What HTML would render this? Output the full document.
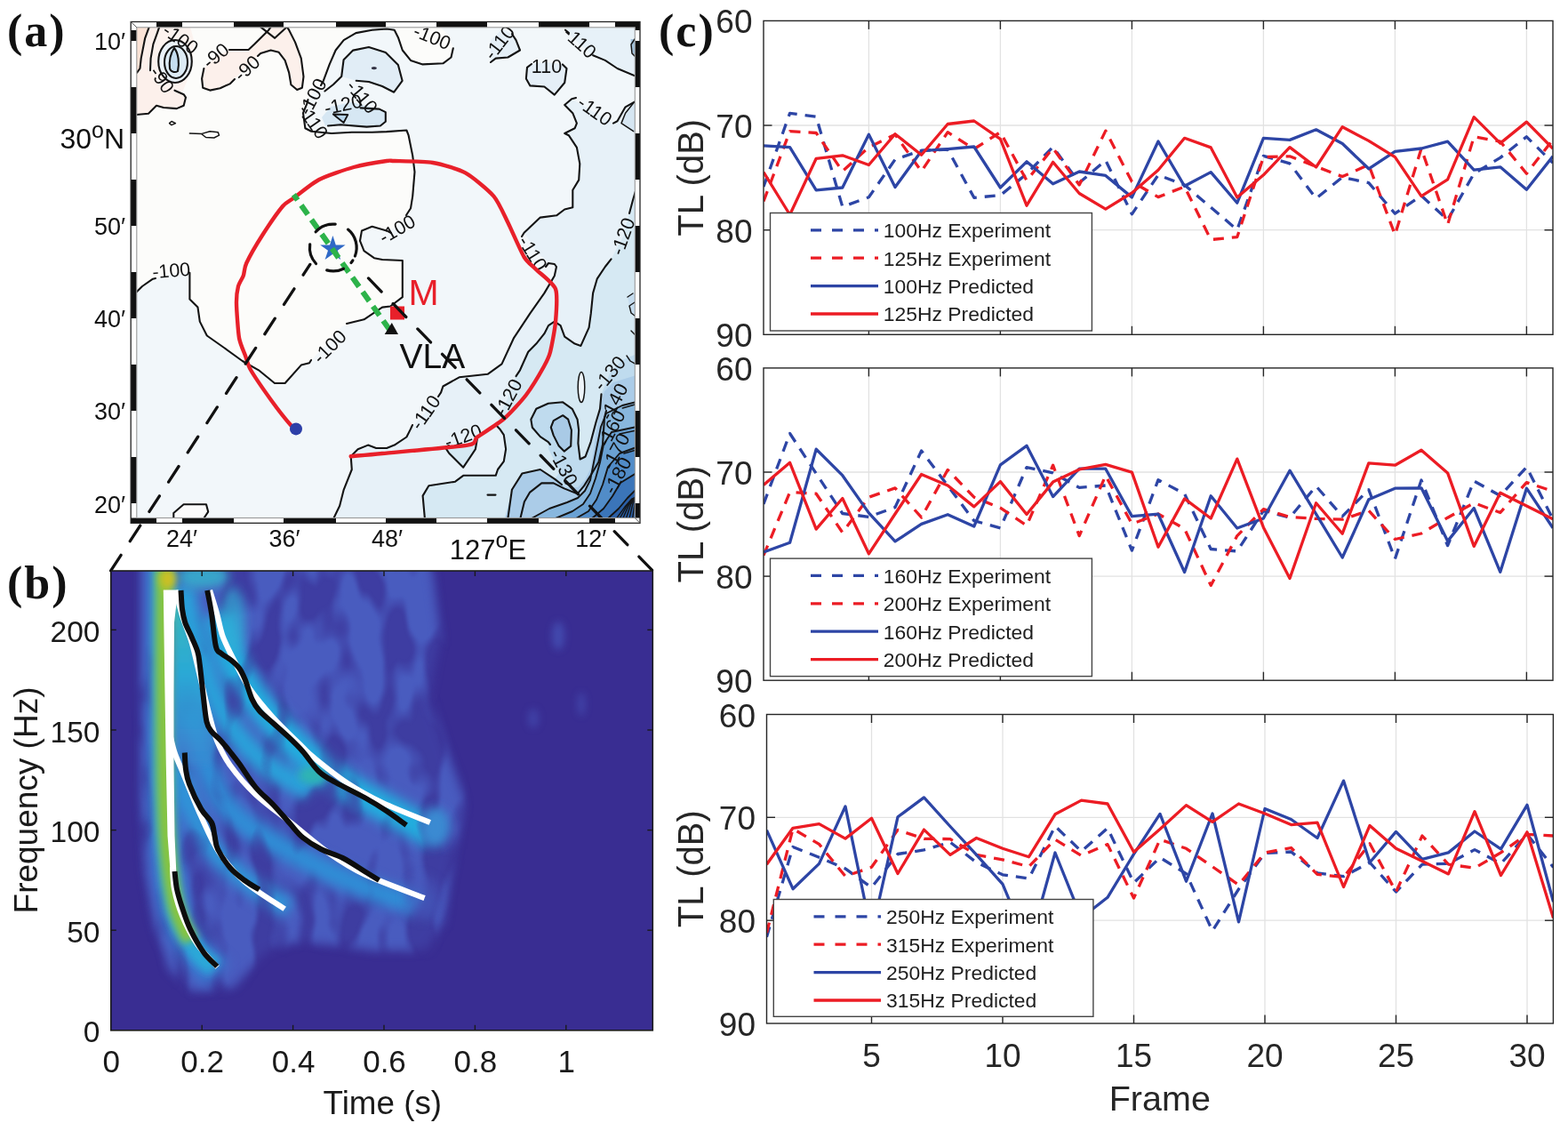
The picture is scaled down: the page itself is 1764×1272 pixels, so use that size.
<!DOCTYPE html>
<html><head><meta charset="utf-8"><title>Figure</title>
<style>html,body{margin:0;padding:0;background:#fff;} svg{display:block;}</style></head>
<body><svg width="1764" height="1272" viewBox="0 0 1764 1272">
<rect width="1764" height="1272" fill="#fff"/>
<defs>
<clipPath id="clipa"><rect x="153.8" y="30.8" width="560.5" height="551.7"/></clipPath>
<linearGradient id="deepg" x1="600" y1="440" x2="715" y2="582" gradientUnits="userSpaceOnUse"><stop offset="0" stop-color="#a6c8e5"/><stop offset="0.45" stop-color="#6fa3d4"/><stop offset="0.75" stop-color="#3f7cc0"/><stop offset="1" stop-color="#1f5aa0"/></linearGradient>
</defs>
<g clip-path="url(#clipa)">
<rect x="153.8" y="30.8" width="560.5" height="551.7" fill="#f2f7fa"/>
<polygon points="375.3,583.0 382.1,569.0 386.7,550.8 395.8,528.0 394.7,513.2 402.6,505.2 414.0,500.6 423.2,504.0 435.0,504.0 443.7,500.6 457.4,491.5 462.0,482.4 480.0,462.0 496.1,441.4 498.4,434.5 516.6,424.3 548.6,420.8 564.5,409.4 578.2,379.8 596.4,352.4 612.4,329.6 623.8,310.3 623.8,297.0 617.0,296.0 603.0,282.0 589.6,261.7 607.8,244.6 626.1,242.3 635.2,235.5 644.3,233.2 644.3,213.8 651.2,202.4 652.3,184.2 648.9,165.9 639.8,152.2 635.2,150.0 646.6,144.3 648.9,138.6 644.3,127.2 635.2,118.0 643.2,111.2 668.0,126.0 690.0,138.6 694.5,136.3 703.6,120.3 716.0,113.5 716.0,583.0" fill="#e7f1f8" />
<polygon points="636.0,30.0 642.0,40.0 651.0,48.0 660.0,56.0 667.1,62.2 680.8,67.9 694.5,77.0 716.0,86.1 716.0,30.0" fill="#e7f1f8" />
<polygon points="593.0,75.9 591.9,88.4 596.4,96.4 612.4,97.5 623.8,106.6 635.2,93.0 637.5,77.0 632.9,72.4 614.0,70.0 598.0,72.0" fill="#e5eff7" />
<polygon points="552.0,70.0 557.7,65.6 571.4,64.5 585.0,56.5 580.5,45.1 576.0,38.2 565.0,33.0 552.0,45.0" fill="#e5eff7" />
<polygon points="716.0,211.5 712.0,225.0 701.0,266.0 687.6,291.3 680.8,300.0 671.7,313.7 667.1,329.6 664.8,352.4 662.6,368.4 653.4,388.9 646.6,386.6 635.2,378.7 630.6,366.1 623.8,361.6 617.0,366.1 612.4,375.2 603.3,386.6 594.2,395.8 585.0,416.3 580.5,423.1 572.0,446.0 557.7,477.8 562.2,482.4 566.8,489.2 569.1,505.2 566.8,518.9 560.0,528.0 557.7,534.8 521.2,534.8 512.1,541.7 482.4,546.2 475.6,557.6 477.9,583.0 716.0,583.0" fill="#d6e9f3" />
<polygon points="500.7,502.9 521.2,500.6 528.0,498.4 537.2,491.5 534.9,505.2 521.2,525.7 505.2,509.8" fill="#d6e9f3" />
<polygon points="568.0,583.0 571.4,580.4 575.9,550.8 587.3,532.6 607.8,528.0 624.2,538.9 630.0,530.0 617.0,505.0 616.8,497.1 607.8,491.1 598.8,480.7 597.3,471.7 603.3,459.8 616.8,453.8 633.2,452.3 643.7,459.8 649.6,471.7 651.1,483.7 650.4,498.6 652.6,516.5 658.6,513.5 664.6,497.1 670.5,474.7 675.0,459.8 676.5,443.3 686.0,420.0 700.0,405.0 716.0,398.0 716.0,583.0" fill="#bfdbee" />
<polygon points="619.8,480.7 622.7,473.2 633.2,467.2 639.2,471.7 642.9,483.7 642.2,501.6 634.7,507.6 628.7,501.6 622.7,489.6" fill="#a9cae6" />
<polygon points="568.0,583.0 576.0,552.0 588.0,533.0 608.0,528.0 624.0,539.0 636.0,548.0 650.0,548.0 658.0,540.0 664.0,528.0 668.0,505.0 671.0,485.0 676.0,455.0 680.0,440.0 690.0,430.0 716.0,422.0 716.0,583.0" fill="#abcce8" />
<polygon points="598.0,583.0 618.0,572.0 638.0,565.0 650.0,560.0 658.0,552.0 664.0,540.0 668.0,520.0 672.0,500.0 676.0,480.0 682.0,465.0 700.0,456.0 716.0,452.0 716.0,583.0" fill="#88b7de" />
<polygon points="625.0,583.0 644.0,575.0 656.0,567.0 664.0,555.0 670.0,538.0 675.0,520.0 679.0,500.0 688.0,486.0 716.0,480.0 716.0,583.0" fill="#6aa1d3" />
<polygon points="648.0,583.0 662.0,575.0 671.0,562.0 678.0,545.0 684.0,525.0 697.0,510.0 716.0,503.0 716.0,583.0" fill="#518cc8" />
<polygon points="666.0,583.0 679.0,572.0 689.0,558.0 698.0,543.0 716.0,532.0 716.0,583.0" fill="#3b75b9" />
<polygon points="684.0,583.0 696.0,572.0 706.0,560.0 716.0,550.0 716.0,583.0" fill="#2a5ea5" />
<polygon points="152.0,30.0 410.0,30.0 400.4,37.1 386.7,45.1 377.6,56.5 370.7,72.4 363.9,90.7 352.0,104.0 345.6,115.8 341.0,127.2 343.4,144.3 350.2,147.7 373.0,150.0 395.8,148.8 418.6,148.8 435.0,148.1 457.4,146.5 459.6,152.2 464.2,175.0 466.5,193.3 464.2,220.6 462.0,234.3 452.8,248.0 444.0,256.0 435.0,259.4 418.6,254.8 407.0,259.4 405.0,270.8 409.5,282.2 420.9,290.2 430.0,292.0 452.8,293.0 452.8,334.2 439.1,344.5 430.0,345.6 409.5,359.3 384.4,367.3 370.0,385.0 355.0,400.0 348.0,408.3 338.8,410.6 320.6,431.0 309.0,431.0 291.0,416.3 272.7,406.0 252.0,391.0 232.8,377.5 224.8,361.6 222.5,345.6 213.4,336.5 213.4,306.8 195.0,308.0 172.0,313.7 152.0,330.0" fill="#fcfcfa" />
<polygon points="443.7,30.0 443.7,33.7 448.2,42.8 452.8,56.5 462.0,67.9 475.6,72.4 498.4,71.3 507.5,64.5 509.8,54.2 505.0,40.0 495.0,30.0" fill="#fcfcfa" />
<polygon points="152.0,30.0 179.2,30.0 176.9,37.1 172.4,49.6 169.6,65.6 169.0,79.3 180.0,95.0 196.5,101.7 206.7,106.2 209.0,109.6 206.7,118.7 198.8,122.1 184.0,121.0 176.0,118.7 167.0,127.8 153.4,129.0 152.0,130.0" fill="#fcf0eb" />
<polygon points="179.0,30.0 214.0,30.0 218.0,45.0 217.0,70.0 210.0,92.0 205.0,104.0 190.0,100.0 172.0,85.0 170.0,60.0" fill="#fcf3ef" />
<polygon points="152.0,30.0 167.8,30.0 163.2,42.8 158.7,65.6 157.5,77.0 154.1,81.6 152.0,82.0" fill="#fbe3d6" />
<polygon points="228.2,98.7 227.1,88.4 229.4,77.0 243.0,64.0 257.9,56.0 279.5,56.0 286.4,49.6 295.5,40.5 302.3,33.7 304.6,30.0 322.8,30.0 325.1,33.7 332.0,47.4 338.8,65.6 341.5,86.1 339.9,98.7 334.2,101.0 327.4,95.2 325.1,81.6 320.6,67.9 313.7,58.8 304.6,56.5 293.2,59.9 275.0,77.0 259.0,94.1 247.6,99.3 236.2,101.6" fill="#fcf0eb" />
<ellipse cx="197" cy="69" rx="18.8" ry="24" fill="#eaf2f9"/>
<ellipse cx="198" cy="70" rx="13" ry="18" fill="#dcebf5"/>
<path d="M196,54 C201,60 202,72 200,80 C197,82 192,81 191,77 C190,68 192,60 196,54 Z" fill="#c6def0"/>
<polygon points="400.7,90.8 384.2,86.0 386.6,67.2 397.2,56.6 414.9,53.0 433.8,58.9 447.9,73.1 452.6,90.8 443.2,103.7 430.0,97.0 415.0,92.0" fill="#e1edf6" />
<polygon points="362.0,132.0 372.0,120.0 395.0,115.0 426.7,122.6 433.8,126.1 433.8,136.8 427.9,141.5 412.5,142.6 383.0,140.3 366.0,141.5" fill="#d6e7f3" />
<polygon points="374.8,128.5 391.3,129.0 386.6,138.0" fill="#b9d7ed" />
<polygon points="712.7,115.8 703.6,127.2 699.0,138.6 712.7,147.7 716.0,147.7 716.0,115.8" fill="#d6e6f2" />
<polygon points="709.6,44.0 712.0,44.0 716.0,44.0 716.0,63.0 712.0,60.0 709.8,52.0" fill="#a4c3dc" />
<polygon points="706.0,334.0 712.0,330.0 716.0,330.0 716.0,356.0 710.0,352.0" fill="#c5dcee" />
<polyline points="167.8,30.3 163.2,42.8 158.7,65.6 157.5,77.0 154.1,81.6 152.0,82.0" fill="none" stroke="#141414" stroke-width="2.1" stroke-linejoin="round" stroke-linecap="round" />
<polyline points="152.0,130.0 153.4,129.0 167.0,127.8 176.0,118.7 184.0,121.0 198.8,122.1 206.7,118.7 209.0,109.6 206.7,106.2 196.5,101.7" fill="none" stroke="#141414" stroke-width="2.1" stroke-linejoin="round" stroke-linecap="round" />
<polyline points="169.0,79.3 169.6,65.6 172.4,49.6 176.9,37.1 179.2,30.3" fill="none" stroke="#141414" stroke-width="2.1" stroke-linejoin="round" stroke-linecap="round" />
<ellipse cx="197" cy="69" rx="18.8" ry="24" fill="none" stroke="#141414" stroke-width="2.1"/>
<ellipse cx="198" cy="70" rx="13" ry="18" fill="none" stroke="#141414" stroke-width="2.1"/>
<path d="M196,54 C201,60 202,72 200,80 C197,82 192,81 191,77 C190,68 192,60 196,54 Z" fill="none" stroke="#141414" stroke-width="2.1"/>
<polyline points="229.4,77.0 227.1,88.4 228.2,98.7 236.2,101.6 247.6,99.3 259.0,94.1 264.0,89.0" fill="none" stroke="#141414" stroke-width="2.1" stroke-linejoin="round" stroke-linecap="round" />
<polyline points="257.9,56.0 279.5,56.0 286.4,49.6 295.5,40.5 302.3,33.7 304.6,30.3" fill="none" stroke="#141414" stroke-width="2.1" stroke-linejoin="round" stroke-linecap="round" />
<polyline points="290.0,63.0 293.2,59.9 304.6,56.5 313.7,58.8 320.6,67.9 325.1,81.6 327.4,95.2 334.2,101.0 339.9,98.7 341.5,86.1 338.8,65.6 332.0,47.4 325.1,33.7 322.8,30.3" fill="none" stroke="#141414" stroke-width="2.1" stroke-linejoin="round" stroke-linecap="round" />
<polyline points="293.2,30.3 309.2,42.8 322.8,30.3" fill="none" stroke="#141414" stroke-width="2.1" stroke-linejoin="round" stroke-linecap="round" />
<polygon points="195.3,577.0 206.6,567.2 232.0,567.2 234.2,575.6 229.2,583.0 195.3,583.0" fill="#fbfbfb" />
<polyline points="195.3,583.0 195.3,577.0 206.6,567.2 232.0,567.2 234.2,575.6 229.2,583.0" fill="none" stroke="#141414" stroke-width="2.1" stroke-linejoin="round" stroke-linecap="round" />
<polyline points="193.0,136.5 197.5,138.6 193.0,140.7 190.5,138.6 193.0,136.5" fill="none" stroke="#141414" stroke-width="1.4" stroke-linejoin="round" stroke-linecap="round" />
<polyline points="213.4,150.0 227.1,150.4 236.2,147.7 245.3,148.8 246.5,152.2 240.8,155.0 231.6,154.5 227.1,151.0" fill="none" stroke="#141414" stroke-width="1.5" stroke-linejoin="round" stroke-linecap="round" />
<polyline points="509.8,54.2 507.5,64.5 498.4,71.3 475.6,72.4 462.0,67.9 452.8,56.5 448.2,42.8 443.7,33.7 435.0,32.5 418.6,33.7 400.4,37.1 386.7,45.1 377.6,56.5 370.7,72.4 363.9,90.7 361.0,96.0" fill="none" stroke="#141414" stroke-width="2.1" stroke-linejoin="round" stroke-linecap="round" />
<polyline points="346.5,112.0 345.6,115.8 341.0,127.2 343.4,144.3 350.2,147.7 373.0,150.0 395.8,148.8 418.6,148.8 435.0,148.1 457.4,146.5 459.6,152.2 464.2,175.0 466.5,193.3 464.2,220.6 462.0,234.3 457.0,242.0" fill="none" stroke="#141414" stroke-width="2.1" stroke-linejoin="round" stroke-linecap="round" />
<polyline points="365.4,102.5 375.0,95.0 384.2,86.0 386.6,67.2 397.2,56.6 414.9,53.0 433.8,58.9 447.9,73.1 452.6,90.8 443.2,103.7 430.0,97.0 415.0,92.0 400.7,90.8" fill="none" stroke="#141414" stroke-width="2.1" stroke-linejoin="round" stroke-linecap="round" />
<polyline points="405.5,121.4 426.7,122.6 433.8,126.1 433.8,136.8 427.9,141.5 412.5,142.6 383.0,140.3 369.0,141.5" fill="none" stroke="#141414" stroke-width="2.1" stroke-linejoin="round" stroke-linecap="round" />
<polyline points="374.8,128.5 391.3,129.0 386.6,138.0 374.8,128.5" fill="none" stroke="#141414" stroke-width="1.8" stroke-linejoin="round" stroke-linecap="round" />
<ellipse cx="420.8" cy="76.6" rx="3" ry="1.6" fill="#334"/>
<polyline points="440.0,262.0 435.0,259.4 418.6,254.8 407.0,259.4 405.0,270.8 409.5,282.2 420.9,290.2 430.0,292.0 452.8,293.0 452.8,334.2 439.1,344.5 430.0,345.6 409.5,359.3 390.0,364.0" fill="none" stroke="#141414" stroke-width="2.1" stroke-linejoin="round" stroke-linecap="round" />
<polyline points="350.0,405.0 348.0,408.3 338.8,410.6 320.6,431.0 309.0,431.0 291.0,416.3 272.7,406.0 252.0,391.0 232.8,377.5 224.8,361.6 222.5,345.6 213.4,336.5 213.4,306.8" fill="none" stroke="#141414" stroke-width="2.1" stroke-linejoin="round" stroke-linecap="round" />
<polyline points="175.0,313.0 172.0,313.7 160.0,322.0 152.0,330.0" fill="none" stroke="#141414" stroke-width="2.1" stroke-linejoin="round" stroke-linecap="round" />
<polyline points="375.3,583.0 382.1,569.0 386.7,550.8 395.8,528.0 394.7,513.2 402.6,505.2 414.0,500.6 423.2,504.0 435.0,504.0 443.7,500.6 457.4,491.5 462.0,482.4 464.0,478.0" fill="none" stroke="#141414" stroke-width="2.1" stroke-linejoin="round" stroke-linecap="round" />
<polyline points="493.0,446.0 496.1,441.4 498.4,434.5 516.6,424.3 548.6,420.8 564.5,409.4 578.2,379.8 596.4,352.4 612.4,329.6 623.8,310.3 626.0,300.0 623.8,297.0 617.0,296.0 614.0,300.0" fill="none" stroke="#141414" stroke-width="2.1" stroke-linejoin="round" stroke-linecap="round" />
<polyline points="587.0,266.0 589.6,261.7 607.8,244.6 626.1,242.3 635.2,235.5 644.3,233.2 644.3,213.8 651.2,202.4 652.3,184.2 648.9,165.9 639.8,152.2 635.2,150.0 646.6,144.3 648.9,138.6 644.3,127.2 635.2,118.0 643.2,111.2 648.0,110.0" fill="none" stroke="#141414" stroke-width="2.1" stroke-linejoin="round" stroke-linecap="round" />
<polyline points="690.0,138.6 694.5,136.3 703.6,120.3 716.0,113.5" fill="none" stroke="#141414" stroke-width="2.1" stroke-linejoin="round" stroke-linecap="round" />
<polyline points="667.1,62.2 680.8,67.9 694.5,77.0 716.0,86.1" fill="none" stroke="#141414" stroke-width="2.1" stroke-linejoin="round" stroke-linecap="round" />
<polyline points="636.0,33.7 640.0,37.0" fill="none" stroke="#141414" stroke-width="2.1" stroke-linejoin="round" stroke-linecap="round" />
<polyline points="598.0,72.0 593.0,75.9 591.9,88.4 596.4,96.4 612.4,97.5 623.8,106.6 635.2,93.0 637.5,77.0 632.9,72.4" fill="none" stroke="#141414" stroke-width="2.1" stroke-linejoin="round" stroke-linecap="round" />
<polyline points="552.0,70.0 557.7,65.6 571.4,64.5 585.0,56.5 580.5,45.1 576.0,38.2" fill="none" stroke="#141414" stroke-width="2.1" stroke-linejoin="round" stroke-linecap="round" />
<polyline points="712.7,115.8 703.6,127.2 699.0,138.6 712.7,147.7" fill="none" stroke="#141414" stroke-width="1.5" stroke-linejoin="round" stroke-linecap="round" />
<polyline points="714.0,44.0 710.0,50.0 711.0,60.0 714.0,63.0" fill="none" stroke="#141414" stroke-width="1.5" stroke-linejoin="round" stroke-linecap="round" />
<polyline points="716.0,211.5 712.0,225.0 708.0,240.0" fill="none" stroke="#141414" stroke-width="2.1" stroke-linejoin="round" stroke-linecap="round" />
<polyline points="687.6,291.3 680.8,300.0 671.7,313.7 667.1,329.6 664.8,352.4 662.6,368.4 653.4,388.9 646.6,386.6 635.2,378.7 630.6,366.1 623.8,361.6 617.0,366.1 612.4,375.2 603.3,386.6 594.2,395.8 585.0,416.3 580.5,423.1" fill="none" stroke="#141414" stroke-width="2.1" stroke-linejoin="round" stroke-linecap="round" />
<polyline points="557.7,477.8 562.2,482.4 566.8,489.2 569.1,505.2 566.8,518.9 560.0,528.0 557.7,534.8 521.2,534.8 512.1,541.7 482.4,546.2 475.6,557.6 477.9,583.0" fill="none" stroke="#141414" stroke-width="2.1" stroke-linejoin="round" stroke-linecap="round" />
<polyline points="505.0,501.0 500.7,502.9 505.2,509.8 521.2,525.7 534.9,505.2 537.2,491.5" fill="none" stroke="#141414" stroke-width="2.1" stroke-linejoin="round" stroke-linecap="round" />
<polyline points="706.0,334.0 712.0,330.0" fill="none" stroke="#141414" stroke-width="1.4" stroke-linejoin="round" stroke-linecap="round" />
<polyline points="714.0,340.0 708.0,344.0 710.0,352.0 714.0,355.0" fill="none" stroke="#141414" stroke-width="1.4" stroke-linejoin="round" stroke-linecap="round" />
<polyline points="548.5,556.6 557.5,556.6" fill="none" stroke="#141414" stroke-width="2.1" stroke-linejoin="round" stroke-linecap="round" />
<polyline points="676.5,443.3 675.0,459.8 670.5,474.7 664.6,497.1 658.6,513.5 652.6,516.5 650.4,498.6 651.1,483.7 649.6,471.7 643.7,459.8 633.2,452.3 616.8,453.8 603.3,459.8 597.3,471.7 598.8,480.7 607.8,491.1 616.8,497.1 619.0,500.0" fill="none" stroke="#141414" stroke-width="2.1" stroke-linejoin="round" stroke-linecap="round" />
<polyline points="571.4,583.0 575.9,550.8 587.3,532.6 607.8,528.0 624.2,538.9 632.0,545.0" fill="none" stroke="#141414" stroke-width="2.1" stroke-linejoin="round" stroke-linecap="round" />
<polyline points="585.4,583.0 589.9,564.3 595.9,553.9 609.3,543.4 622.7,543.4 634.7,549.4 649.6,555.4 657.1,546.4 664.6,534.5 673.5,519.5 678.0,500.0 680.0,470.0 682.0,462.0" fill="none" stroke="#141414" stroke-width="2.1" stroke-linejoin="round" stroke-linecap="round" />
<polyline points="619.8,480.7 622.7,473.2 633.2,467.2 639.2,471.7 642.9,483.7 642.2,501.6 634.7,507.6 628.7,501.6 622.7,489.6 619.8,480.7" fill="none" stroke="#141414" stroke-width="2.1" stroke-linejoin="round" stroke-linecap="round" />
<ellipse cx="654" cy="435.5" rx="3.8" ry="17" fill="#eef5fa" stroke="#141414" stroke-width="1.5"/>
<polyline points="705.0,400.0 709.0,406.0 716.0,410.0" fill="none" stroke="#141414" stroke-width="1.4" stroke-linejoin="round" stroke-linecap="round" />
<polyline points="710.0,372.0 716.0,378.0" fill="none" stroke="#141414" stroke-width="1.4" stroke-linejoin="round" stroke-linecap="round" />
<polyline points="598.0,583.0 618.0,572.0 638.0,565.0 650.0,560.0 658.0,552.0 664.0,540.0 668.0,520.0 672.0,500.0 676.0,480.0 682.0,465.0 700.0,456.0 716.0,452.0" fill="none" stroke="#141414" stroke-width="1.9" stroke-linejoin="round" stroke-linecap="round" />
<polyline points="625.0,583.0 644.0,575.0 656.0,567.0 664.0,555.0 670.0,538.0 675.0,520.0 679.0,500.0 688.0,486.0 716.0,480.0" fill="none" stroke="#141414" stroke-width="1.9" stroke-linejoin="round" stroke-linecap="round" />
<polyline points="648.0,583.0 662.0,575.0 671.0,562.0 678.0,545.0 684.0,525.0 697.0,510.0 716.0,503.0" fill="none" stroke="#141414" stroke-width="1.9" stroke-linejoin="round" stroke-linecap="round" />
<polyline points="666.0,583.0 679.0,572.0 689.0,558.0 698.0,543.0 716.0,532.0" fill="none" stroke="#141414" stroke-width="1.9" stroke-linejoin="round" stroke-linecap="round" />
<polyline points="684.0,583.0 696.0,572.0 706.0,560.0 716.0,550.0" fill="none" stroke="#141414" stroke-width="1.9" stroke-linejoin="round" stroke-linecap="round" />
<polyline points="693.6,583.0 702.4,570.8 710.6,561.2 716.0,559.2" fill="none" stroke="#141414" stroke-width="1.4" stroke-linejoin="round" stroke-linecap="round" />
<polyline points="697.2,583.0 704.8,569.6 712.2,560.4 716.0,562.4" fill="none" stroke="#141414" stroke-width="1.4" stroke-linejoin="round" stroke-linecap="round" />
<polyline points="700.8,583.0 707.2,568.4 713.8,559.6 716.0,565.6" fill="none" stroke="#141414" stroke-width="1.4" stroke-linejoin="round" stroke-linecap="round" />
<polyline points="704.4,583.0 709.6,567.2 715.4,558.8 716.0,568.8" fill="none" stroke="#141414" stroke-width="1.4" stroke-linejoin="round" stroke-linecap="round" />
<polyline points="708.0,583.0 712.0,566.0 717.0,558.0 716.0,572.0" fill="none" stroke="#141414" stroke-width="1.4" stroke-linejoin="round" stroke-linecap="round" />
<polyline points="711.6,583.0 714.4,564.8 718.6,557.2 716.0,575.2" fill="none" stroke="#141414" stroke-width="1.4" stroke-linejoin="round" stroke-linecap="round" />
<polyline points="715.2,583.0 716.8,563.6 720.2,556.4 716.0,578.4" fill="none" stroke="#141414" stroke-width="1.4" stroke-linejoin="round" stroke-linecap="round" />
<polyline points="700.4,459.0 714.2,455.0" fill="none" stroke="#141414" stroke-width="1.6" stroke-linejoin="round" stroke-linecap="round" />
<polyline points="697.0,488.0 716.0,484.0" fill="none" stroke="#141414" stroke-width="1.6" stroke-linejoin="round" stroke-linecap="round" />
<polyline points="702.0,510.0 716.0,506.0" fill="none" stroke="#141414" stroke-width="1.6" stroke-linejoin="round" stroke-linecap="round" />
</g>
<g font-family="'Liberation Sans', Arial, sans-serif">
<text transform="translate(203,44) rotate(35)" font-size="21.5" text-anchor="middle" dominant-baseline="central" fill="#111">-100</text>
<text transform="translate(182,90) rotate(55)" font-size="21.5" text-anchor="middle" dominant-baseline="central" fill="#111">-90</text>
<text transform="translate(243,63) rotate(-40)" font-size="21.5" text-anchor="middle" dominant-baseline="central" fill="#111">-90</text>
<text transform="translate(278,77) rotate(-42)" font-size="21.5" text-anchor="middle" dominant-baseline="central" fill="#111">-90</text>
<text transform="translate(352,109) rotate(-62)" font-size="21.5" text-anchor="middle" dominant-baseline="central" fill="#111">-100</text>
<text transform="translate(407,109) rotate(50)" font-size="21.5" text-anchor="middle" dominant-baseline="central" fill="#111">-110</text>
<text transform="translate(386,118) rotate(-12)" font-size="21.5" text-anchor="middle" dominant-baseline="central" fill="#111">-120</text>
<text transform="translate(352,137) rotate(55)" font-size="21.5" text-anchor="middle" dominant-baseline="central" fill="#111">-110</text>
<text transform="translate(486,42) rotate(22)" font-size="21.5" text-anchor="middle" dominant-baseline="central" fill="#111">-100</text>
<text transform="translate(562,48) rotate(-52)" font-size="21.5" text-anchor="middle" dominant-baseline="central" fill="#111">-110</text>
<text transform="translate(615,75) rotate(0)" font-size="21.5" text-anchor="middle" dominant-baseline="central" fill="#111">110</text>
<text transform="translate(652,48) rotate(42)" font-size="21.5" text-anchor="middle" dominant-baseline="central" fill="#111">-110</text>
<text transform="translate(669,125) rotate(35)" font-size="21.5" text-anchor="middle" dominant-baseline="central" fill="#111">-110</text>
<text transform="translate(599,285) rotate(58)" font-size="21.5" text-anchor="middle" dominant-baseline="central" fill="#111">-110</text>
<text transform="translate(701,266) rotate(-70)" font-size="21.5" text-anchor="middle" dominant-baseline="central" fill="#111">-120</text>
<text transform="translate(192.7,304.5) rotate(-5)" font-size="21.5" text-anchor="middle" dominant-baseline="central" fill="#111">-100</text>
<text transform="translate(371,390) rotate(-45)" font-size="21.5" text-anchor="middle" dominant-baseline="central" fill="#111">-100</text>
<text transform="translate(447,258) rotate(-30)" font-size="21.5" text-anchor="middle" dominant-baseline="central" fill="#111">-100</text>
<text transform="translate(479,464) rotate(-55)" font-size="21.5" text-anchor="middle" dominant-baseline="central" fill="#111">-110</text>
<text transform="translate(572,447) rotate(-62)" font-size="21.5" text-anchor="middle" dominant-baseline="central" fill="#111">-120</text>
<text transform="translate(521,491) rotate(-20)" font-size="21.5" text-anchor="middle" dominant-baseline="central" fill="#111">-120</text>
<text transform="translate(686,420) rotate(-50)" font-size="21.5" text-anchor="middle" dominant-baseline="central" fill="#111">-130</text>
<text transform="translate(634,526) rotate(62)" font-size="21.5" text-anchor="middle" dominant-baseline="central" fill="#111">-130</text>
<text transform="translate(691,452) rotate(-62)" font-size="21.5" text-anchor="middle" dominant-baseline="central" fill="#111">-140</text>
<text transform="translate(688,482) rotate(-62)" font-size="21.5" text-anchor="middle" dominant-baseline="central" fill="#111">-160</text>
<text transform="translate(693,508) rotate(-62)" font-size="21.5" text-anchor="middle" dominant-baseline="central" fill="#111">-170</text>
<text transform="translate(695,535) rotate(-62)" font-size="21.5" text-anchor="middle" dominant-baseline="central" fill="#111">-180</text>
</g>
<path d="M333.0,482.0 C332.3,481.5 330.3,481.7 327.0,478.0 C323.7,474.3 310.2,457.2 305.0,450.0 C299.8,442.8 285.4,421.8 282.0,416.0 C278.6,410.2 277.5,404.2 276.0,400.0 C274.5,395.8 270.2,386.9 269.0,380.0 C267.8,373.1 266.1,347.8 266.0,341.0 C265.9,334.2 267.1,325.6 268.0,322.0 C268.9,318.4 272.7,313.0 273.8,310.0 C274.9,307.0 274.7,301.4 277.2,296.0 C279.7,290.6 290.7,271.5 295.5,264.0 C300.3,256.5 314.0,236.8 318.0,232.0 C322.0,227.2 325.2,226.5 330.0,223.0 C334.8,219.5 351.1,206.1 359.0,202.0 C366.9,197.9 389.1,190.4 398.0,188.0 C406.9,185.6 429.6,181.8 435.0,181.0 C440.4,180.2 437.9,180.8 444.0,181.0 C450.1,181.2 477.7,181.4 487.0,183.0 C496.3,184.6 515.5,190.0 523.5,194.4 C531.5,198.8 549.8,214.1 555.4,220.6 C561.0,227.1 567.4,242.3 571.4,250.3 C575.4,258.3 585.9,282.9 589.6,289.0 C593.3,295.1 598.9,298.8 603.0,303.0 C607.1,307.2 622.4,318.1 625.0,325.0 C627.6,331.9 625.7,353.7 625.0,362.0 C624.3,370.3 620.5,390.2 619.0,396.0 C617.5,401.8 615.1,406.4 612.0,412.0 C608.9,417.6 597.2,437.1 592.0,444.0 C586.8,450.9 573.4,465.5 567.0,471.0 C560.6,476.5 541.8,488.0 537.0,491.5 C532.2,495.0 538.5,498.4 526.0,500.6 C513.5,502.8 445.3,508.5 430.0,510.0 C414.7,511.5 398.8,512.8 394.7,513.2" fill="none" stroke="#e8202a" stroke-width="4.4" stroke-linejoin="round" stroke-linecap="round"/>
<circle cx="333" cy="482.4" r="7" fill="#2d3fa8"/>
<polygon points="374.4,265.1 377.8,275.4 388.6,275.4 379.8,281.8 383.2,292.1 374.4,285.7 365.6,292.1 369.0,281.8 360.2,275.4 371.0,275.4" fill="#2f68c6" />
<line x1="330.4" y1="218.9" x2="440.4" y2="373.8" stroke="#2db34a" stroke-width="6.2" stroke-dasharray="12.7,7.2" stroke-dashoffset="5.2"/>
<path d="M355.2,260.8 A26.4,26.4 0 0 1 377.2,252.2" fill="none" stroke="#111" stroke-width="3.2" stroke-linecap="round"/>
<path d="M391.5,258.1 A26.4,26.4 0 0 1 399.4,288.0" fill="none" stroke="#111" stroke-width="3.2" stroke-linecap="round"/>
<path d="M396.9,292.9 A26.4,26.4 0 0 1 395.0,295.5" fill="none" stroke="#111" stroke-width="3.2" stroke-linecap="round"/>
<path d="M386.5,302.2 A26.4,26.4 0 0 1 367.7,303.9" fill="none" stroke="#111" stroke-width="3.2" stroke-linecap="round"/>
<path d="M355.5,296.5 A26.4,26.4 0 0 1 348.7,274.8" fill="none" stroke="#111" stroke-width="3.2" stroke-linecap="round"/>
<rect x="439" y="344.5" width="16" height="15" fill="#e8202a"/>
<polygon points="440.8,363.0 432.7,376.0 448.0,376.0" fill="#111" />
<text x="459.5" y="343.4" font-family="'Liberation Sans', Arial, sans-serif" font-size="41" fill="#e8202a">M</text>
<text x="449.5" y="413.5" font-family="'Liberation Sans', Arial, sans-serif" font-size="39" fill="#111">VLA</text>
<line x1="348.8" y1="297.4" x2="124.6" y2="642" stroke="#111" stroke-width="3.3" stroke-dasharray="21,18.7" stroke-dashoffset="6.95" stroke-linecap="round"/>
<line x1="412.2" y1="310.6" x2="734.3" y2="642" stroke="#111" stroke-width="3.3" stroke-dasharray="21,18.7" stroke-dashoffset="36.4" stroke-linecap="round"/>
<rect x="147.2" y="24.5" width="572.8" height="563.8" fill="none" stroke="#fff" stroke-width="0"/>
<rect x="147.2" y="24.5" width="6.6" height="9.5" fill="#fff"/>
<rect x="147.2" y="34" width="6.6" height="12" fill="#111"/>
<rect x="147.2" y="46" width="6.6" height="52" fill="#fff"/>
<rect x="147.2" y="98" width="6.6" height="52" fill="#111"/>
<rect x="147.2" y="150" width="6.6" height="52" fill="#fff"/>
<rect x="147.2" y="202" width="6.6" height="52" fill="#111"/>
<rect x="147.2" y="254" width="6.6" height="52" fill="#fff"/>
<rect x="147.2" y="306" width="6.6" height="52" fill="#111"/>
<rect x="147.2" y="358" width="6.6" height="52" fill="#fff"/>
<rect x="147.2" y="410" width="6.6" height="52" fill="#111"/>
<rect x="147.2" y="462" width="6.6" height="52" fill="#fff"/>
<rect x="147.2" y="514" width="6.6" height="52" fill="#111"/>
<rect x="147.2" y="566" width="6.6" height="22.299999999999955" fill="#fff"/>
<rect x="714.3" y="24.5" width="5.7" height="9.5" fill="#111"/>
<rect x="714.3" y="34" width="5.7" height="12" fill="#fff"/>
<rect x="714.3" y="46" width="5.7" height="52" fill="#111"/>
<rect x="714.3" y="98" width="5.7" height="52" fill="#fff"/>
<rect x="714.3" y="150" width="5.7" height="52" fill="#111"/>
<rect x="714.3" y="202" width="5.7" height="52" fill="#fff"/>
<rect x="714.3" y="254" width="5.7" height="52" fill="#111"/>
<rect x="714.3" y="306" width="5.7" height="52" fill="#fff"/>
<rect x="714.3" y="358" width="5.7" height="52" fill="#111"/>
<rect x="714.3" y="410" width="5.7" height="52" fill="#fff"/>
<rect x="714.3" y="462" width="5.7" height="52" fill="#111"/>
<rect x="714.3" y="514" width="5.7" height="52" fill="#fff"/>
<rect x="714.3" y="566" width="5.7" height="22.299999999999955" fill="#111"/>
<rect x="147" y="24.5" width="29" height="6.3" fill="#fff"/>
<rect x="176" y="24.5" width="29" height="6.3" fill="#111"/>
<rect x="205" y="24.5" width="58" height="6.3" fill="#fff"/>
<rect x="263" y="24.5" width="56" height="6.3" fill="#111"/>
<rect x="319" y="24.5" width="59" height="6.3" fill="#fff"/>
<rect x="378" y="24.5" width="56" height="6.3" fill="#111"/>
<rect x="434" y="24.5" width="57" height="6.3" fill="#fff"/>
<rect x="491" y="24.5" width="57" height="6.3" fill="#111"/>
<rect x="548" y="24.5" width="58" height="6.3" fill="#fff"/>
<rect x="606" y="24.5" width="57" height="6.3" fill="#111"/>
<rect x="663" y="24.5" width="29" height="6.3" fill="#fff"/>
<rect x="692" y="24.5" width="28" height="6.3" fill="#111"/>
<rect x="147" y="582.5" width="29" height="5.8" fill="#111"/>
<rect x="176" y="582.5" width="29" height="5.8" fill="#fff"/>
<rect x="205" y="582.5" width="58" height="5.8" fill="#111"/>
<rect x="263" y="582.5" width="56" height="5.8" fill="#fff"/>
<rect x="319" y="582.5" width="59" height="5.8" fill="#111"/>
<rect x="378" y="582.5" width="56" height="5.8" fill="#fff"/>
<rect x="434" y="582.5" width="57" height="5.8" fill="#111"/>
<rect x="491" y="582.5" width="57" height="5.8" fill="#fff"/>
<rect x="548" y="582.5" width="58" height="5.8" fill="#111"/>
<rect x="606" y="582.5" width="57" height="5.8" fill="#fff"/>
<rect x="663" y="582.5" width="29" height="5.8" fill="#111"/>
<rect x="692" y="582.5" width="28" height="5.8" fill="#fff"/>
<rect x="147.2" y="24.5" width="572.8" height="563.8" fill="none" stroke="#222" stroke-width="1.3"/>
<rect x="153.8" y="30.8" width="560.5" height="551.7" fill="none" stroke="#999" stroke-width="1.1"/>
<line x1="147.2" y1="24.5" x2="153.8" y2="30.8" stroke="#555" stroke-width="1"/>
<line x1="720.0" y1="588.3" x2="714.3" y2="582.5" stroke="#555" stroke-width="1"/>
<g font-family="'Liberation Sans', Arial, sans-serif" fill="#111">
<text x="141" y="56.2" font-size="27" text-anchor="end">10′</text>
<text x="141" y="264" font-size="27" text-anchor="end">50′</text>
<text x="141" y="368" font-size="27" text-anchor="end">40′</text>
<text x="141" y="472" font-size="27" text-anchor="end">30′</text>
<text x="141" y="576.5" font-size="27" text-anchor="end">20′</text>
<text x="140" y="167.4" font-size="32" text-anchor="end">30<tspan font-size="25" dy="-12.5">o</tspan><tspan dy="12.5">N</tspan></text>
<text x="204.5" y="614.8" font-size="27" text-anchor="middle">24′</text>
<text x="320" y="614.8" font-size="27" text-anchor="middle">36′</text>
<text x="435.5" y="614.8" font-size="27" text-anchor="middle">48′</text>
<text x="664.7" y="614.8" font-size="27" text-anchor="middle">12′</text>
<text x="549" y="628.5" font-size="31" text-anchor="middle">127<tspan font-size="25" dy="-12.5">o</tspan><tspan dy="12.5">E</tspan></text>
</g>
<text x="8" y="51.5" font-family="'Liberation Serif', serif" font-weight="bold" font-size="52" letter-spacing="2" fill="#111">(a)</text>
<defs>
<filter id="blur8" filterUnits="userSpaceOnUse" x="100" y="620" width="660" height="560"><feGaussianBlur stdDeviation="7"/></filter>
<filter id="blur4" filterUnits="userSpaceOnUse" x="100" y="620" width="660" height="560"><feGaussianBlur stdDeviation="4"/></filter>
<filter id="blur3" filterUnits="userSpaceOnUse" x="100" y="620" width="660" height="560"><feGaussianBlur stdDeviation="3.2"/></filter>
<filter id="blur6" filterUnits="userSpaceOnUse" x="100" y="620" width="660" height="560"><feGaussianBlur stdDeviation="6"/></filter>
<filter id="blur2" filterUnits="userSpaceOnUse" x="100" y="620" width="660" height="560"><feGaussianBlur stdDeviation="2.5"/></filter>
<clipPath id="clipb"><rect x="124.8" y="642.0" width="609.5" height="516.8"/></clipPath>
</defs>
<g clip-path="url(#clipb)">
<rect x="124.8" y="642.0" width="609.5" height="516.8" fill="#392d92"/>
<filter id="mottle" filterUnits="userSpaceOnUse" x="100" y="620" width="660" height="560" color-interpolation-filters="sRGB"><feGaussianBlur in="SourceGraphic" stdDeviation="6" result="shape"/><feTurbulence type="fractalNoise" baseFrequency="0.028 0.014" numOctaves="2" seed="9" result="noise"/><feColorMatrix in="noise" type="matrix" values="0 0 0 0 0.285  0 0 0 0 0.36  0 0 0 0 0.75  6 0 0 0 -2.35" result="col"/><feGaussianBlur in="col" stdDeviation="1.5" result="colb"/><feComposite in="colb" in2="shape" operator="in"/></filter>
<filter id="mottle2" filterUnits="userSpaceOnUse" x="100" y="620" width="660" height="560" color-interpolation-filters="sRGB"><feGaussianBlur in="SourceGraphic" stdDeviation="7" result="shape"/><feTurbulence type="fractalNoise" baseFrequency="0.028 0.014" numOctaves="2" seed="9" result="noise"/><feColorMatrix in="noise" type="matrix" values="0 0 0 0 0  0 0 0 0 0  0 0 0 0 0  3.2 0 0 0 -0.45" result="na"/><feComposite in="shape" in2="na" operator="in"/></filter>
<polygon points="160.0,630.0 484.0,630.0 490.0,680.0 495.0,720.0 482.0,785.0 500.0,840.0 522.0,900.0 514.0,940.0 505.0,990.0 498.0,1040.0 480.0,1068.0 420.0,1068.0 380.0,1062.0 330.0,1058.0 300.0,1070.0 280.0,1090.0 262.0,1110.0 215.0,1114.0 190.0,1088.0 175.0,1040.0 164.0,980.0 160.0,900.0 160.0,760.0" fill="#4a5bbf" opacity="0.35" filter="url(#blur6)"/>
<polygon points="160.0,630.0 484.0,630.0 490.0,680.0 495.0,720.0 482.0,785.0 500.0,840.0 522.0,900.0 514.0,940.0 505.0,990.0 498.0,1040.0 480.0,1068.0 420.0,1068.0 380.0,1062.0 330.0,1058.0 300.0,1070.0 280.0,1090.0 262.0,1110.0 215.0,1114.0 190.0,1088.0 175.0,1040.0 164.0,980.0 160.0,900.0 160.0,760.0" fill="#fff" filter="url(#mottle)"/>
<g filter="url(#mottle2)">
<path d="M183.0,630.0 C183.0,651.7 182.8,718.3 183.0,760.0 C183.2,801.7 183.2,846.7 184.0,880.0 C184.8,913.3 185.5,935.0 188.0,960.0 C190.5,985.0 193.3,1010.8 199.0,1030.0 C204.7,1049.2 214.3,1063.8 222.0,1075.0 C229.7,1086.2 241.2,1093.3 245.0,1097.0" fill="none" stroke="#3a78cf" stroke-width="36"/>
<path d="M207.0,660.0 C208.2,666.7 210.8,686.7 214.0,700.0 C217.2,713.3 221.7,726.7 226.0,740.0 C230.3,753.3 234.0,766.7 240.0,780.0 C246.0,793.3 252.0,806.7 262.0,820.0 C272.0,833.3 285.3,848.3 300.0,860.0 C314.7,871.7 341.7,885.0 350.0,890.0" fill="none" stroke="#29a2da" stroke-width="24"/>
<path d="M246.0,690.0 C248.8,699.3 255.7,729.3 263.0,746.0 C270.3,762.7 280.5,776.8 290.0,790.0 C299.5,803.2 308.3,813.0 320.0,825.0 C331.7,837.0 346.7,851.2 360.0,862.0 C373.3,872.8 386.7,881.7 400.0,890.0 C413.3,898.3 425.0,903.7 440.0,912.0 C455.0,920.3 481.7,935.3 490.0,940.0" fill="none" stroke="#22aede" stroke-width="32"/>
<path d="M215.0,800.0 C217.8,810.0 226.2,843.3 232.0,860.0 C237.8,876.7 242.0,888.3 250.0,900.0 C258.0,911.7 266.7,920.0 280.0,930.0 C293.3,940.0 313.3,950.8 330.0,960.0 C346.7,969.2 363.3,977.5 380.0,985.0 C396.7,992.5 413.3,999.2 430.0,1005.0 C446.7,1010.8 471.7,1017.5 480.0,1020.0" fill="none" stroke="#2f8ed6" stroke-width="24"/>
<path d="M200.0,860.0 C202.3,867.5 208.7,890.8 214.0,905.0 C219.3,919.2 224.7,933.3 232.0,945.0 C239.3,956.7 248.3,965.8 258.0,975.0 C267.7,984.2 278.8,992.2 290.0,1000.0 C301.2,1007.8 319.2,1018.3 325.0,1022.0" fill="none" stroke="#2f95d8" stroke-width="22"/>
</g>
<path d="M183.0,630.0 C183.0,651.7 182.8,718.3 183.0,760.0 C183.2,801.7 183.2,846.7 184.0,880.0 C184.8,913.3 185.5,935.0 188.0,960.0 C190.5,985.0 193.0,1011.2 199.0,1030.0 C205.0,1048.8 216.8,1063.3 224.0,1073.0 C231.2,1082.7 239.0,1085.5 242.0,1088.0" fill="none" stroke="#2aa8d8" stroke-width="22" filter="url(#blur4)"/>
<ellipse cx="352" cy="872" rx="16" ry="10" fill="#2fb4b3" filter="url(#blur4)"/>
<ellipse cx="228" cy="648" rx="30" ry="14" fill="#34b2cc" opacity="0.85" filter="url(#blur6)"/>
<linearGradient id="wedgeg" x1="0" y1="660" x2="0" y2="860" gradientUnits="userSpaceOnUse"><stop offset="0" stop-color="#3cbcb8"/><stop offset="0.5" stop-color="#2aa8d6"/><stop offset="1" stop-color="#3a8ad2" stop-opacity="0.6"/></linearGradient>
<polygon points="195,662 199,662 205,692 216,724 225.5,763 235,802 244,834 236,860 196,860 195,760" fill="url(#wedgeg)" filter="url(#blur3)"/>
<ellipse cx="262" cy="700" rx="14" ry="40" fill="#30aed6" opacity="0.7" filter="url(#blur6)"/>
<ellipse cx="490" cy="930" rx="16" ry="22" fill="#3a8ad2" filter="url(#blur6)"/>
<path d="M184.0,640.0 C184.0,660.0 183.8,720.0 184.0,760.0 C184.2,800.0 184.2,846.7 185.0,880.0 C185.8,913.3 186.8,936.7 189.0,960.0 C191.2,983.3 193.8,1003.7 198.0,1020.0 C202.2,1036.3 211.3,1051.7 214.0,1058.0" fill="none" stroke="#86c43f" stroke-width="18" filter="url(#blur4)"/>
<ellipse cx="189" cy="651" rx="9" ry="12" fill="#cdbf22" filter="url(#blur4)"/>
<ellipse cx="628" cy="715" rx="7" ry="16" fill="#4757bb" opacity="0.7" filter="url(#blur4)"/>
<ellipse cx="654" cy="792" rx="4" ry="13" fill="#4757bb" opacity="0.6" filter="url(#blur4)"/>
<ellipse cx="600" cy="808" rx="6" ry="11" fill="#4757bb" opacity="0.5" filter="url(#blur4)"/>
<ellipse cx="476" cy="1010" rx="20" ry="25" fill="#4757bb" opacity="0.6" filter="url(#blur6)"/>
<polygon points="183.8,663.5 200.3,663.5 196.0,700.0 195.5,780.0 195.5,860.0 196.5,940.0 198.5,985.0 192.0,985.0 188.5,940.0 186.8,860.0 185.5,780.0 184.3,700.0" fill="#fff"/>
<path d="M197.5,664.0 C198.8,668.7 201.9,682.3 205.0,692.2 C208.1,702.1 212.6,711.8 216.0,723.6 C219.4,735.4 222.3,749.9 225.5,763.0 C228.7,776.1 231.9,790.4 235.0,802.2 C238.1,814.0 240.3,823.9 244.3,833.7 C248.3,843.5 251.7,850.8 258.9,860.8 C266.1,870.8 275.9,882.6 287.5,893.5 C299.1,904.4 314.8,915.3 328.4,926.2 C342.0,937.1 355.7,949.4 369.3,958.9 C382.9,968.4 392.1,974.9 410.2,983.4 C428.2,991.9 466.4,1005.6 477.6,1010.0" fill="none" stroke="#fff" stroke-width="6.2" stroke-linecap="butt"/>
<path d="M236.0,664.0 C237.3,668.3 241.6,681.4 244.0,690.0 C246.4,698.6 247.4,707.0 250.6,715.8 C253.8,724.5 258.2,732.8 263.2,742.5 C268.2,752.2 273.2,763.2 280.5,774.0 C287.8,784.8 297.5,796.3 307.2,807.0 C316.9,817.7 331.1,830.9 338.7,838.4 C346.3,845.9 344.5,845.1 353.0,852.0 C361.5,858.9 376.8,871.5 389.7,880.0 C402.6,888.5 414.9,895.5 430.6,903.0 C446.3,910.5 474.9,921.3 483.8,925.0" fill="none" stroke="#fff" stroke-width="6.2" stroke-linecap="butt"/>
<path d="M190.0,820.0 C191.0,824.2 193.4,836.8 196.0,845.0 C198.6,853.2 200.8,856.8 205.8,869.0 C210.8,881.2 219.4,903.0 226.2,918.0 C233.0,933.0 238.4,946.6 246.6,958.9 C254.8,971.2 263.0,981.0 275.3,991.6 C287.6,1002.2 312.7,1017.2 320.2,1022.3" fill="none" stroke="#fff" stroke-width="6.2" stroke-linecap="butt"/>
<path d="M194.0,975.0 C194.3,979.2 194.2,990.8 196.0,1000.0 C197.8,1009.2 200.7,1019.7 205.0,1030.0 C209.3,1040.3 215.4,1052.4 222.0,1062.0 C228.6,1071.6 240.8,1083.4 244.6,1087.7" fill="none" stroke="#fff" stroke-width="6"/>
<path d="M196.5,980.0 C196.9,983.3 197.6,993.3 199.0,1000.0 C200.4,1006.7 202.2,1012.5 204.7,1020.0 C207.2,1027.5 209.9,1036.5 214.0,1045.0 C218.1,1053.5 224.0,1064.0 229.0,1071.0 C234.0,1078.0 241.7,1084.3 244.2,1087.0" fill="none" stroke="#0d0d0d" stroke-width="6" stroke-linecap="butt"/>
<path d="M203.5,664.0 C203.8,667.5 204.2,679.0 205.0,685.0 C205.8,691.0 206.4,694.6 208.2,700.0 C210.0,705.4 213.7,711.8 216.0,717.3 C218.3,722.8 220.9,728.0 222.3,733.0 C223.8,738.0 223.6,739.1 224.7,747.2 C225.8,755.3 227.3,771.0 228.6,781.8 C229.9,792.5 230.9,804.9 232.5,811.7 C234.1,818.5 235.5,819.3 238.0,822.7 C240.5,826.1 244.1,828.3 247.5,832.0 C250.9,835.7 254.8,840.3 258.5,845.0 C262.2,849.7 265.2,853.3 270.0,860.0 C274.8,866.7 281.2,877.7 287.5,885.3 C293.8,892.9 301.6,898.9 308.0,905.7 C314.4,912.5 320.6,920.0 326.0,926.0 C331.4,932.0 334.8,937.2 340.7,942.0 C346.6,946.8 353.6,951.2 361.1,955.0 C368.6,958.8 377.5,960.8 385.7,965.0 C393.9,969.2 403.4,975.8 410.2,980.0 C417.0,984.2 423.8,988.3 426.5,990.0" fill="none" stroke="#0d0d0d" stroke-width="6" stroke-linecap="butt"/>
<path d="M233.2,664.0 C234.0,668.3 236.4,679.5 238.0,690.0 C239.6,700.5 241.0,719.3 242.8,726.8 C244.6,734.3 246.1,732.4 249.0,735.0 C251.9,737.6 256.6,739.7 260.0,742.5 C263.4,745.3 266.9,748.3 269.5,752.0 C272.1,755.7 273.4,758.8 275.8,764.5 C278.2,770.2 281.0,780.8 283.6,786.5 C286.2,792.2 287.6,794.5 291.5,799.0 C295.4,803.5 301.9,808.5 307.2,813.2 C312.4,817.9 317.4,822.1 323.0,827.4 C328.6,832.7 334.5,838.2 340.5,845.0 C346.5,851.8 352.9,862.2 359.1,868.0 C365.3,873.8 369.0,875.2 377.5,880.0 C386.0,884.8 400.7,891.7 410.2,897.0 C419.7,902.3 426.9,906.8 434.7,912.0 C442.5,917.2 453.4,925.3 457.2,928.0" fill="none" stroke="#0d0d0d" stroke-width="6" stroke-linecap="butt"/>
<path d="M207.8,846.5 C208.0,849.6 208.1,859.1 209.0,865.0 C209.9,870.9 210.1,874.5 213.0,882.0 C215.9,889.5 222.0,902.6 226.2,909.8 C230.4,917.0 235.4,920.0 238.0,925.0 C240.6,930.0 240.3,935.0 241.5,940.0 C242.7,945.0 242.1,949.0 245.0,955.0 C247.9,961.0 253.9,970.2 258.9,976.0 C263.9,981.8 269.6,985.9 275.0,990.0 C280.4,994.1 288.8,998.8 291.6,1000.5" fill="none" stroke="#0d0d0d" stroke-width="6" stroke-linecap="butt"/>
</g>
<rect x="124.8" y="642.0" width="609.5" height="516.8" fill="none" stroke="#1a1a1a" stroke-width="1.6"/>
<line x1="227.2" y1="1158.8" x2="227.2" y2="1152.8" stroke="#1a1a1a" stroke-width="1.4"/>
<line x1="227.2" y1="642.0" x2="227.2" y2="648.0" stroke="#1a1a1a" stroke-width="1.4"/>
<line x1="329.6" y1="1158.8" x2="329.6" y2="1152.8" stroke="#1a1a1a" stroke-width="1.4"/>
<line x1="329.6" y1="642.0" x2="329.6" y2="648.0" stroke="#1a1a1a" stroke-width="1.4"/>
<line x1="432.0" y1="1158.8" x2="432.0" y2="1152.8" stroke="#1a1a1a" stroke-width="1.4"/>
<line x1="432.0" y1="642.0" x2="432.0" y2="648.0" stroke="#1a1a1a" stroke-width="1.4"/>
<line x1="534.4" y1="1158.8" x2="534.4" y2="1152.8" stroke="#1a1a1a" stroke-width="1.4"/>
<line x1="534.4" y1="642.0" x2="534.4" y2="648.0" stroke="#1a1a1a" stroke-width="1.4"/>
<line x1="636.8" y1="1158.8" x2="636.8" y2="1152.8" stroke="#1a1a1a" stroke-width="1.4"/>
<line x1="636.8" y1="642.0" x2="636.8" y2="648.0" stroke="#1a1a1a" stroke-width="1.4"/>
<line x1="124.8" y1="1046.2" x2="130.8" y2="1046.2" stroke="#1a1a1a" stroke-width="1.4"/>
<line x1="734.3" y1="1046.2" x2="728.3" y2="1046.2" stroke="#1a1a1a" stroke-width="1.4"/>
<line x1="124.8" y1="933.6" x2="130.8" y2="933.6" stroke="#1a1a1a" stroke-width="1.4"/>
<line x1="734.3" y1="933.6" x2="728.3" y2="933.6" stroke="#1a1a1a" stroke-width="1.4"/>
<line x1="124.8" y1="821.0" x2="130.8" y2="821.0" stroke="#1a1a1a" stroke-width="1.4"/>
<line x1="734.3" y1="821.0" x2="728.3" y2="821.0" stroke="#1a1a1a" stroke-width="1.4"/>
<line x1="124.8" y1="708.4" x2="130.8" y2="708.4" stroke="#1a1a1a" stroke-width="1.4"/>
<line x1="734.3" y1="708.4" x2="728.3" y2="708.4" stroke="#1a1a1a" stroke-width="1.4"/>
<g font-family="'Liberation Sans', Arial, sans-serif" fill="#1a1a1a">
<text x="125.3" y="1205.5" font-size="35" text-anchor="middle">0</text>
<text x="227.7" y="1205.5" font-size="35" text-anchor="middle">0.2</text>
<text x="330.1" y="1205.5" font-size="35" text-anchor="middle">0.4</text>
<text x="432.5" y="1205.5" font-size="35" text-anchor="middle">0.6</text>
<text x="534.9" y="1205.5" font-size="35" text-anchor="middle">0.8</text>
<text x="637.3" y="1205.5" font-size="35" text-anchor="middle">1</text>
<text x="112.5" y="1172.3" font-size="33.5" text-anchor="end">0</text>
<text x="112.5" y="1059.7" font-size="33.5" text-anchor="end">50</text>
<text x="112.5" y="947.1" font-size="33.5" text-anchor="end">100</text>
<text x="112.5" y="834.5" font-size="33.5" text-anchor="end">150</text>
<text x="112.5" y="721.9" font-size="33.5" text-anchor="end">200</text>
<text x="430.3" y="1253.3" font-size="36.8" text-anchor="middle">Time (s)</text>
<text transform="translate(42.3,900) rotate(-90)" font-size="37" text-anchor="middle">Frequency (Hz)</text>
</g>
<text x="8" y="673" font-family="'Liberation Serif', serif" font-weight="bold" font-size="52" letter-spacing="2" fill="#111">(b)</text>
<g font-family="'Liberation Sans', Arial, sans-serif">
<line x1="977.4" y1="23.4" x2="977.4" y2="376.3" stroke="#e2e2e2" stroke-width="1.3"/>
<line x1="1125.4" y1="23.4" x2="1125.4" y2="376.3" stroke="#e2e2e2" stroke-width="1.3"/>
<line x1="1273.4" y1="23.4" x2="1273.4" y2="376.3" stroke="#e2e2e2" stroke-width="1.3"/>
<line x1="1421.4" y1="23.4" x2="1421.4" y2="376.3" stroke="#e2e2e2" stroke-width="1.3"/>
<line x1="1569.4" y1="23.4" x2="1569.4" y2="376.3" stroke="#e2e2e2" stroke-width="1.3"/>
<line x1="1717.4" y1="23.4" x2="1717.4" y2="376.3" stroke="#e2e2e2" stroke-width="1.3"/>
<line x1="859.0" y1="141.0" x2="1747.0" y2="141.0" stroke="#e2e2e2" stroke-width="1.3"/>
<line x1="859.0" y1="258.7" x2="1747.0" y2="258.7" stroke="#e2e2e2" stroke-width="1.3"/>
<clipPath id="clip23"><rect x="859.0" y="23.4" width="888.0" height="352.90000000000003"/></clipPath>
<g clip-path="url(#clip23)" fill="none" stroke-width="3.3" stroke-linejoin="round">
<polyline points="859.0,210.0 888.6,127.3 918.2,131.3 947.8,232.5 977.4,221.8 1007.0,179.4 1036.6,169.2 1066.2,168.1 1095.8,222.3 1125.4,219.7 1155.0,195.6 1184.6,165.3 1214.2,205.6 1243.8,180.4 1273.4,240.8 1303.0,196.8 1332.6,208.1 1362.2,233.2 1391.8,258.4 1421.4,175.4 1451.0,183.9 1480.6,223.2 1510.2,199.3 1539.8,205.6 1569.4,240.2 1599.0,220.0 1628.6,247.3 1658.2,195.2 1687.8,177.4 1717.4,153.8 1747.0,183.2" stroke="#2d45a5" stroke-dasharray="12,9"/>
<polyline points="859.0,226.4 888.6,147.7 918.2,149.5 947.8,192.6 977.4,165.6 1007.0,151.3 1036.6,192.6 1066.2,148.7 1095.8,167.6 1125.4,148.7 1155.0,203.0 1184.6,166.6 1214.2,208.0 1243.8,147.1 1273.4,204.3 1303.0,221.6 1332.6,210.0 1362.2,269.5 1391.8,266.6 1421.4,176.6 1451.0,175.8 1480.6,187.3 1510.2,198.6 1539.8,185.4 1569.4,264.0 1599.0,167.1 1628.6,252.7 1658.2,153.8 1687.8,159.1 1717.4,195.2 1747.0,157.1" stroke="#ec1c24" stroke-dasharray="12,9"/>
<polyline points="859.0,163.8 888.6,165.6 918.2,213.9 947.8,211.0 977.4,151.3 1007.0,210.5 1036.6,169.7 1066.2,167.6 1095.8,165.0 1125.4,211.0 1155.0,181.8 1184.6,206.8 1214.2,193.0 1243.8,197.4 1273.4,221.9 1303.0,159.0 1332.6,209.3 1362.2,193.6 1391.8,228.2 1421.4,155.3 1451.0,157.4 1480.6,145.8 1510.2,161.5 1539.8,189.8 1569.4,170.3 1599.0,167.0 1628.6,159.1 1658.2,191.2 1687.8,187.8 1717.4,213.2 1747.0,175.8" stroke="#2d45a5"/>
<polyline points="859.0,193.7 888.6,241.5 918.2,178.3 947.8,174.8 977.4,185.5 1007.0,150.7 1036.6,174.3 1066.2,139.5 1095.8,136.0 1125.4,156.4 1155.0,231.2 1184.6,182.3 1214.2,217.5 1243.8,235.1 1273.4,216.9 1303.0,191.2 1332.6,155.3 1362.2,165.9 1391.8,221.9 1421.4,196.8 1451.0,165.6 1480.6,188.0 1510.2,142.7 1539.8,158.4 1569.4,176.6 1599.0,220.6 1628.6,201.9 1658.2,131.7 1687.8,161.1 1717.4,137.1 1747.0,167.1" stroke="#ec1c24"/>
</g>
<rect x="859.0" y="23.4" width="888.0" height="352.90000000000003" fill="none" stroke="#262626" stroke-width="1.4"/>
<line x1="977.4" y1="376.3" x2="977.4" y2="366.8" stroke="#262626" stroke-width="1.4"/>
<line x1="977.4" y1="23.4" x2="977.4" y2="32.9" stroke="#262626" stroke-width="1.4"/>
<line x1="1125.4" y1="376.3" x2="1125.4" y2="366.8" stroke="#262626" stroke-width="1.4"/>
<line x1="1125.4" y1="23.4" x2="1125.4" y2="32.9" stroke="#262626" stroke-width="1.4"/>
<line x1="1273.4" y1="376.3" x2="1273.4" y2="366.8" stroke="#262626" stroke-width="1.4"/>
<line x1="1273.4" y1="23.4" x2="1273.4" y2="32.9" stroke="#262626" stroke-width="1.4"/>
<line x1="1421.4" y1="376.3" x2="1421.4" y2="366.8" stroke="#262626" stroke-width="1.4"/>
<line x1="1421.4" y1="23.4" x2="1421.4" y2="32.9" stroke="#262626" stroke-width="1.4"/>
<line x1="1569.4" y1="376.3" x2="1569.4" y2="366.8" stroke="#262626" stroke-width="1.4"/>
<line x1="1569.4" y1="23.4" x2="1569.4" y2="32.9" stroke="#262626" stroke-width="1.4"/>
<line x1="1717.4" y1="376.3" x2="1717.4" y2="366.8" stroke="#262626" stroke-width="1.4"/>
<line x1="1717.4" y1="23.4" x2="1717.4" y2="32.9" stroke="#262626" stroke-width="1.4"/>
<line x1="859.0" y1="141.0" x2="868.5" y2="141.0" stroke="#262626" stroke-width="1.4"/>
<line x1="1747.0" y1="141.0" x2="1737.5" y2="141.0" stroke="#262626" stroke-width="1.4"/>
<line x1="859.0" y1="258.7" x2="868.5" y2="258.7" stroke="#262626" stroke-width="1.4"/>
<line x1="1747.0" y1="258.7" x2="1737.5" y2="258.7" stroke="#262626" stroke-width="1.4"/>
<rect x="866.5" y="239.5" width="361.9000000000001" height="132.5" fill="#fff" stroke="#444" stroke-width="1.4"/>
<line x1="912" y1="258.8" x2="988" y2="258.8" stroke="#2d45a5" stroke-width="3.3" stroke-dasharray="12,12"/>
<text x="993.8" y="267.1" font-size="22.9" fill="#1e1e1e">100Hz Experiment</text>
<line x1="912" y1="290.2" x2="988" y2="290.2" stroke="#ec1c24" stroke-width="3.3" stroke-dasharray="12,12"/>
<text x="993.8" y="298.5" font-size="22.9" fill="#1e1e1e">125Hz Experiment</text>
<line x1="912" y1="321.6" x2="988" y2="321.6" stroke="#2d45a5" stroke-width="3.3"/>
<text x="993.8" y="329.9" font-size="22.9" fill="#1e1e1e">100Hz Predicted</text>
<line x1="912" y1="353.0" x2="988" y2="353.0" stroke="#ec1c24" stroke-width="3.3"/>
<text x="993.8" y="361.3" font-size="22.9" fill="#1e1e1e">125Hz Predicted</text>
<text x="846.5" y="37.4" font-size="37" fill="#262626" text-anchor="end">60</text>
<text x="846.5" y="155.0" font-size="37" fill="#262626" text-anchor="end">70</text>
<text x="846.5" y="272.7" font-size="37" fill="#262626" text-anchor="end">80</text>
<text x="846.5" y="390.3" font-size="37" fill="#262626" text-anchor="end">90</text>
<text transform="translate(790.5,199.8) rotate(-90)" font-size="40" fill="#262626" text-anchor="middle">TL (dB)</text>
<line x1="977.4" y1="413.9" x2="977.4" y2="765.2" stroke="#e2e2e2" stroke-width="1.3"/>
<line x1="1125.4" y1="413.9" x2="1125.4" y2="765.2" stroke="#e2e2e2" stroke-width="1.3"/>
<line x1="1273.4" y1="413.9" x2="1273.4" y2="765.2" stroke="#e2e2e2" stroke-width="1.3"/>
<line x1="1421.4" y1="413.9" x2="1421.4" y2="765.2" stroke="#e2e2e2" stroke-width="1.3"/>
<line x1="1569.4" y1="413.9" x2="1569.4" y2="765.2" stroke="#e2e2e2" stroke-width="1.3"/>
<line x1="1717.4" y1="413.9" x2="1717.4" y2="765.2" stroke="#e2e2e2" stroke-width="1.3"/>
<line x1="859.0" y1="531.0" x2="1747.0" y2="531.0" stroke="#e2e2e2" stroke-width="1.3"/>
<line x1="859.0" y1="648.1" x2="1747.0" y2="648.1" stroke="#e2e2e2" stroke-width="1.3"/>
<clipPath id="clip413"><rect x="859.0" y="413.9" width="888.0" height="351.30000000000007"/></clipPath>
<g clip-path="url(#clip413)" fill="none" stroke-width="3.3" stroke-linejoin="round">
<polyline points="859.0,566.8 888.6,487.5 918.2,532.5 947.8,577.5 977.4,581.3 1007.0,570.6 1036.6,507.0 1066.2,546.3 1095.8,585.7 1125.4,593.8 1155.0,525.6 1184.6,531.9 1214.2,548.4 1243.8,546.0 1273.4,619.1 1303.0,539.7 1332.6,555.4 1362.2,617.5 1391.8,619.9 1421.4,574.3 1451.0,582.0 1480.6,546.8 1510.2,580.6 1539.8,550.7 1569.4,628.5 1599.0,540.0 1628.6,613.6 1658.2,541.0 1687.8,557.5 1717.4,525.3 1747.0,583.9" stroke="#2d45a5" stroke-dasharray="12,9"/>
<polyline points="859.0,624.7 888.6,553.6 918.2,555.2 947.8,598.9 977.4,559.2 1007.0,548.9 1036.6,581.9 1066.2,528.4 1095.8,559.2 1125.4,571.2 1155.0,591.0 1184.6,523.2 1214.2,602.6 1243.8,535.0 1273.4,589.2 1303.0,578.0 1332.6,594.7 1362.2,658.4 1391.8,602.6 1421.4,572.7 1451.0,581.5 1480.6,583.4 1510.2,584.2 1539.8,574.3 1569.4,606.5 1599.0,600.0 1628.6,582.2 1658.2,565.7 1687.8,576.5 1717.4,542.6 1747.0,552.5" stroke="#ec1c24" stroke-dasharray="12,9"/>
<polyline points="859.0,620.9 888.6,610.2 918.2,505.2 947.8,534.7 977.4,576.9 1007.0,608.9 1036.6,589.4 1066.2,578.7 1095.8,592.0 1125.4,522.8 1155.0,501.3 1184.6,558.6 1214.2,527.2 1243.8,527.2 1273.4,580.6 1303.0,578.2 1332.6,643.5 1362.2,557.8 1391.8,594.0 1421.4,583.0 1451.0,529.2 1480.6,578.2 1510.2,627.0 1539.8,561.7 1569.4,549.2 1599.0,548.8 1628.6,608.6 1658.2,571.5 1687.8,643.3 1717.4,549.2 1747.0,593.8" stroke="#2d45a5"/>
<polyline points="859.0,545.4 888.6,520.3 918.2,595.1 947.8,560.5 977.4,622.8 1007.0,578.0 1036.6,533.5 1066.2,546.0 1095.8,569.9 1125.4,541.6 1155.0,578.5 1184.6,542.1 1214.2,527.9 1243.8,522.4 1273.4,531.1 1303.0,615.2 1332.6,560.9 1362.2,583.0 1391.8,516.1 1421.4,593.2 1451.0,650.5 1480.6,565.7 1510.2,600.2 1539.8,520.9 1569.4,523.2 1599.0,506.3 1628.6,531.9 1658.2,614.4 1687.8,554.2 1717.4,569.0 1747.0,583.9" stroke="#ec1c24"/>
</g>
<rect x="859.0" y="413.9" width="888.0" height="351.30000000000007" fill="none" stroke="#262626" stroke-width="1.4"/>
<line x1="977.4" y1="765.2" x2="977.4" y2="755.7" stroke="#262626" stroke-width="1.4"/>
<line x1="977.4" y1="413.9" x2="977.4" y2="423.4" stroke="#262626" stroke-width="1.4"/>
<line x1="1125.4" y1="765.2" x2="1125.4" y2="755.7" stroke="#262626" stroke-width="1.4"/>
<line x1="1125.4" y1="413.9" x2="1125.4" y2="423.4" stroke="#262626" stroke-width="1.4"/>
<line x1="1273.4" y1="765.2" x2="1273.4" y2="755.7" stroke="#262626" stroke-width="1.4"/>
<line x1="1273.4" y1="413.9" x2="1273.4" y2="423.4" stroke="#262626" stroke-width="1.4"/>
<line x1="1421.4" y1="765.2" x2="1421.4" y2="755.7" stroke="#262626" stroke-width="1.4"/>
<line x1="1421.4" y1="413.9" x2="1421.4" y2="423.4" stroke="#262626" stroke-width="1.4"/>
<line x1="1569.4" y1="765.2" x2="1569.4" y2="755.7" stroke="#262626" stroke-width="1.4"/>
<line x1="1569.4" y1="413.9" x2="1569.4" y2="423.4" stroke="#262626" stroke-width="1.4"/>
<line x1="1717.4" y1="765.2" x2="1717.4" y2="755.7" stroke="#262626" stroke-width="1.4"/>
<line x1="1717.4" y1="413.9" x2="1717.4" y2="423.4" stroke="#262626" stroke-width="1.4"/>
<line x1="859.0" y1="531.0" x2="868.5" y2="531.0" stroke="#262626" stroke-width="1.4"/>
<line x1="1747.0" y1="531.0" x2="1737.5" y2="531.0" stroke="#262626" stroke-width="1.4"/>
<line x1="859.0" y1="648.1" x2="868.5" y2="648.1" stroke="#262626" stroke-width="1.4"/>
<line x1="1747.0" y1="648.1" x2="1737.5" y2="648.1" stroke="#262626" stroke-width="1.4"/>
<rect x="866.5" y="628.1" width="361.9000000000001" height="132.5" fill="#fff" stroke="#444" stroke-width="1.4"/>
<line x1="912" y1="647.4" x2="988" y2="647.4" stroke="#2d45a5" stroke-width="3.3" stroke-dasharray="12,12"/>
<text x="993.8" y="655.7" font-size="22.9" fill="#1e1e1e">160Hz Experiment</text>
<line x1="912" y1="678.8" x2="988" y2="678.8" stroke="#ec1c24" stroke-width="3.3" stroke-dasharray="12,12"/>
<text x="993.8" y="687.1" font-size="22.9" fill="#1e1e1e">200Hz Experiment</text>
<line x1="912" y1="710.2" x2="988" y2="710.2" stroke="#2d45a5" stroke-width="3.3"/>
<text x="993.8" y="718.5" font-size="22.9" fill="#1e1e1e">160Hz Predicted</text>
<line x1="912" y1="741.6" x2="988" y2="741.6" stroke="#ec1c24" stroke-width="3.3"/>
<text x="993.8" y="749.9" font-size="22.9" fill="#1e1e1e">200Hz Predicted</text>
<text x="846.5" y="427.9" font-size="37" fill="#262626" text-anchor="end">60</text>
<text x="846.5" y="545.0" font-size="37" fill="#262626" text-anchor="end">70</text>
<text x="846.5" y="662.1" font-size="37" fill="#262626" text-anchor="end">80</text>
<text x="846.5" y="779.2" font-size="37" fill="#262626" text-anchor="end">90</text>
<text transform="translate(790.5,589.5) rotate(-90)" font-size="40" fill="#262626" text-anchor="middle">TL (dB)</text>
<line x1="980.5" y1="803.5" x2="980.5" y2="1151.0" stroke="#e2e2e2" stroke-width="1.3"/>
<line x1="1128.0" y1="803.5" x2="1128.0" y2="1151.0" stroke="#e2e2e2" stroke-width="1.3"/>
<line x1="1275.5" y1="803.5" x2="1275.5" y2="1151.0" stroke="#e2e2e2" stroke-width="1.3"/>
<line x1="1423.0" y1="803.5" x2="1423.0" y2="1151.0" stroke="#e2e2e2" stroke-width="1.3"/>
<line x1="1570.5" y1="803.5" x2="1570.5" y2="1151.0" stroke="#e2e2e2" stroke-width="1.3"/>
<line x1="1718.0" y1="803.5" x2="1718.0" y2="1151.0" stroke="#e2e2e2" stroke-width="1.3"/>
<line x1="862.5" y1="919.3" x2="1747.4" y2="919.3" stroke="#e2e2e2" stroke-width="1.3"/>
<line x1="862.5" y1="1035.2" x2="1747.4" y2="1035.2" stroke="#e2e2e2" stroke-width="1.3"/>
<clipPath id="clip803"><rect x="862.5" y="803.5" width="884.9000000000001" height="347.5"/></clipPath>
<g clip-path="url(#clip803)" fill="none" stroke-width="3.3" stroke-linejoin="round">
<polyline points="862.5,1053.9 892.0,952.5 921.5,964.3 951.0,976.9 980.5,998.1 1010.0,960.5 1039.5,955.9 1069.0,947.2 1098.5,970.0 1128.0,983.8 1157.5,988.0 1187.0,929.2 1216.5,957.4 1246.0,931.5 1275.5,992.8 1305.0,964.5 1334.5,982.6 1364.0,1047.0 1393.5,1000.0 1423.0,959.5 1452.5,958.0 1482.0,981.8 1511.5,985.7 1541.0,970.0 1570.5,1003.0 1600.0,972.1 1629.5,971.3 1659.0,955.6 1688.5,971.3 1718.0,938.3 1747.5,975.4" stroke="#2d45a5" stroke-dasharray="12,9"/>
<polyline points="862.5,1049.2 892.0,932.1 921.5,949.4 951.0,985.5 980.5,975.3 1010.0,933.4 1039.5,943.3 1069.0,943.6 1098.5,961.4 1128.0,966.9 1157.5,974.7 1187.0,944.1 1216.5,962.2 1246.0,949.6 1275.5,1010.1 1305.0,944.1 1334.5,954.3 1364.0,974.7 1393.5,995.2 1423.0,959.0 1452.5,953.5 1482.0,983.4 1511.5,986.5 1541.0,948.8 1570.5,1003.0 1600.0,940.0 1629.5,972.1 1659.0,976.3 1688.5,958.9 1718.0,938.3 1747.5,940.0" stroke="#ec1c24" stroke-dasharray="12,9"/>
<polyline points="862.5,933.7 892.0,999.7 921.5,971.4 951.0,906.9 980.5,1050.0 1010.0,918.8 1039.5,896.9 1069.0,929.5 1098.5,961.4 1128.0,994.4 1157.5,1065.0 1187.0,959.0 1216.5,1032.3 1246.0,1009.3 1275.5,960.6 1305.0,915.4 1334.5,991.2 1364.0,915.0 1393.5,1036.8 1423.0,909.5 1452.5,921.5 1482.0,942.5 1511.5,878.1 1541.0,970.0 1570.5,935.4 1600.0,966.4 1629.5,958.9 1659.0,935.0 1688.5,954.8 1718.0,905.3 1747.5,1014.2" stroke="#2d45a5"/>
<polyline points="862.5,972.2 892.0,931.3 921.5,926.6 951.0,943.1 980.5,920.3 1010.0,982.5 1039.5,933.1 1069.0,961.4 1098.5,942.5 1128.0,954.3 1157.5,963.7 1187.0,915.8 1216.5,900.1 1246.0,904.0 1275.5,958.2 1305.0,932.5 1334.5,905.6 1364.0,924.4 1393.5,904.0 1423.0,915.0 1452.5,927.6 1482.0,925.2 1511.5,997.5 1541.0,928.4 1570.5,954.3 1600.0,968.5 1629.5,982.9 1659.0,912.7 1688.5,984.5 1718.0,935.8 1747.5,1032.4" stroke="#ec1c24"/>
</g>
<rect x="862.5" y="803.5" width="884.9000000000001" height="347.5" fill="none" stroke="#262626" stroke-width="1.4"/>
<line x1="980.5" y1="1151.0" x2="980.5" y2="1141.5" stroke="#262626" stroke-width="1.4"/>
<line x1="980.5" y1="803.5" x2="980.5" y2="813.0" stroke="#262626" stroke-width="1.4"/>
<line x1="1128.0" y1="1151.0" x2="1128.0" y2="1141.5" stroke="#262626" stroke-width="1.4"/>
<line x1="1128.0" y1="803.5" x2="1128.0" y2="813.0" stroke="#262626" stroke-width="1.4"/>
<line x1="1275.5" y1="1151.0" x2="1275.5" y2="1141.5" stroke="#262626" stroke-width="1.4"/>
<line x1="1275.5" y1="803.5" x2="1275.5" y2="813.0" stroke="#262626" stroke-width="1.4"/>
<line x1="1423.0" y1="1151.0" x2="1423.0" y2="1141.5" stroke="#262626" stroke-width="1.4"/>
<line x1="1423.0" y1="803.5" x2="1423.0" y2="813.0" stroke="#262626" stroke-width="1.4"/>
<line x1="1570.5" y1="1151.0" x2="1570.5" y2="1141.5" stroke="#262626" stroke-width="1.4"/>
<line x1="1570.5" y1="803.5" x2="1570.5" y2="813.0" stroke="#262626" stroke-width="1.4"/>
<line x1="1718.0" y1="1151.0" x2="1718.0" y2="1141.5" stroke="#262626" stroke-width="1.4"/>
<line x1="1718.0" y1="803.5" x2="1718.0" y2="813.0" stroke="#262626" stroke-width="1.4"/>
<line x1="862.5" y1="919.3" x2="872.0" y2="919.3" stroke="#262626" stroke-width="1.4"/>
<line x1="1747.4" y1="919.3" x2="1737.9" y2="919.3" stroke="#262626" stroke-width="1.4"/>
<line x1="862.5" y1="1035.2" x2="872.0" y2="1035.2" stroke="#262626" stroke-width="1.4"/>
<line x1="1747.4" y1="1035.2" x2="1737.9" y2="1035.2" stroke="#262626" stroke-width="1.4"/>
<rect x="870.3" y="1011.5" width="359.60000000000014" height="131.79999999999995" fill="#fff" stroke="#444" stroke-width="1.4"/>
<line x1="915.5" y1="1030.8" x2="991" y2="1030.8" stroke="#2d45a5" stroke-width="3.3" stroke-dasharray="12,12"/>
<text x="997.0" y="1039.1" font-size="22.9" fill="#1e1e1e">250Hz Experiment</text>
<line x1="915.5" y1="1062.2" x2="991" y2="1062.2" stroke="#ec1c24" stroke-width="3.3" stroke-dasharray="12,12"/>
<text x="997.0" y="1070.5" font-size="22.9" fill="#1e1e1e">315Hz Experiment</text>
<line x1="915.5" y1="1093.6" x2="991" y2="1093.6" stroke="#2d45a5" stroke-width="3.3"/>
<text x="997.0" y="1101.9" font-size="22.9" fill="#1e1e1e">250Hz Predicted</text>
<line x1="915.5" y1="1125.0" x2="991" y2="1125.0" stroke="#ec1c24" stroke-width="3.3"/>
<text x="997.0" y="1133.3" font-size="22.9" fill="#1e1e1e">315Hz Predicted</text>
<text x="850" y="817.5" font-size="37" fill="#262626" text-anchor="end">60</text>
<text x="850" y="933.3" font-size="37" fill="#262626" text-anchor="end">70</text>
<text x="850" y="1049.2" font-size="37" fill="#262626" text-anchor="end">80</text>
<text x="850" y="1165.0" font-size="37" fill="#262626" text-anchor="end">90</text>
<text transform="translate(790.5,977.2) rotate(-90)" font-size="40" fill="#262626" text-anchor="middle">TL (dB)</text>
<text x="980.5" y="1200" font-size="37" fill="#262626" text-anchor="middle">5</text>
<text x="1128.0" y="1200" font-size="37" fill="#262626" text-anchor="middle">10</text>
<text x="1275.5" y="1200" font-size="37" fill="#262626" text-anchor="middle">15</text>
<text x="1423.0" y="1200" font-size="37" fill="#262626" text-anchor="middle">20</text>
<text x="1570.5" y="1200" font-size="37" fill="#262626" text-anchor="middle">25</text>
<text x="1718.0" y="1200" font-size="37" fill="#262626" text-anchor="middle">30</text>
<text x="1304.8" y="1248.7" font-size="39.5" fill="#262626" text-anchor="middle">Frame</text>
</g>
<text x="741" y="51.5" font-family="'Liberation Serif', serif" font-weight="bold" font-size="52" letter-spacing="2" fill="#111">(c)</text>
</svg></body></html>
